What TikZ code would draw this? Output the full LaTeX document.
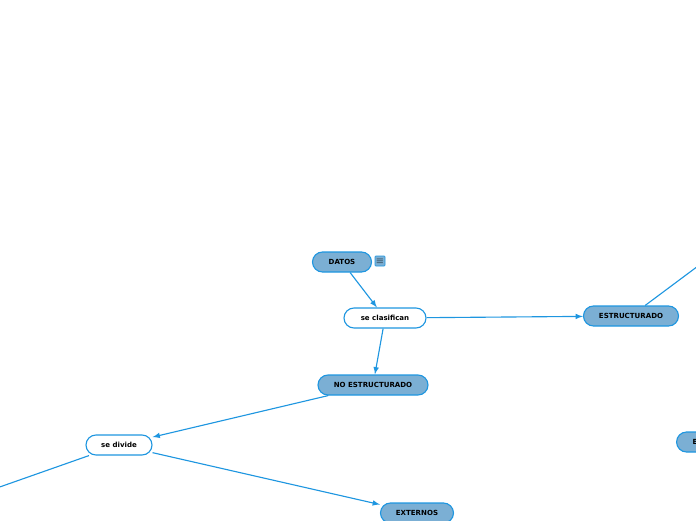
\documentclass[tikz,border=0pt]{standalone}
\usepackage{fontspec}
\setmainfont{DejaVu Sans}
\definecolor{mapblue}{HTML}{1E96E0}
\definecolor{mapfill}{HTML}{7BAFD4}
\tikzset{
  topic/.style={draw=mapblue, fill=mapfill, rounded corners=2.5mm, thick,
    minimum height=0.5cm, inner xsep=0pt, font=\fontsize{5}{6}\selectfont\bfseries},
  link/.style={draw=mapblue, fill=white, rounded corners=2.5mm, thick,
    minimum height=0.5cm, inner xsep=0pt, font=\fontsize{5}{6}\selectfont\bfseries},
  >=latex
}
\begin{document}
\begin{tikzpicture}[x=0.025cm, y=-0.025cm]
    \useasboundingbox (0, 0) rectangle (696, 520);
    \clip (0, 0) rectangle (696, 520);
    \draw (342, 262) node (dt) [topic, minimum width=1.475cm] {DATOS}
          (385, 318) node (cl) [link, minimum width=2.05cm] {se clasifican}
          (631, 316) node (es) [topic, minimum width=2.375cm] {ESTRUCTURADO}
          (373, 385) node (ne) [topic, minimum width=2.75cm] {NO ESTRUCTURADO}
          (119, 445) node (dv) [link, minimum width=1.65cm] {se divide}
          (417, 513) node (ex) [topic, minimum width=1.825cm] {EXTERNOS}
          (676, 442) node (eo) [topic, anchor=west, inner xsep=16*0.025cm] {E};
    \draw (380, 261) node (nt) [draw=mapblue, fill=mapfill, rounded corners=0.5pt,
          minimum size=0.25cm, inner sep=0pt, font=\fontsize{6}{6}\selectfont] {$\equiv$};
    \coordinate (up) at (745, 231);
    \coordinate (lf) at (-60, 508);
    \draw[thick, mapblue, ->] (dt) edge (cl)
                 (cl) edge (es)
                 (cl) edge (ne)
                 (ne) edge (dv)
                 (dv) edge (ex);
    \draw[thick, mapblue] (es) -- (up)
                 (dv) -- (lf);
  \end{tikzpicture}
\end{document}
